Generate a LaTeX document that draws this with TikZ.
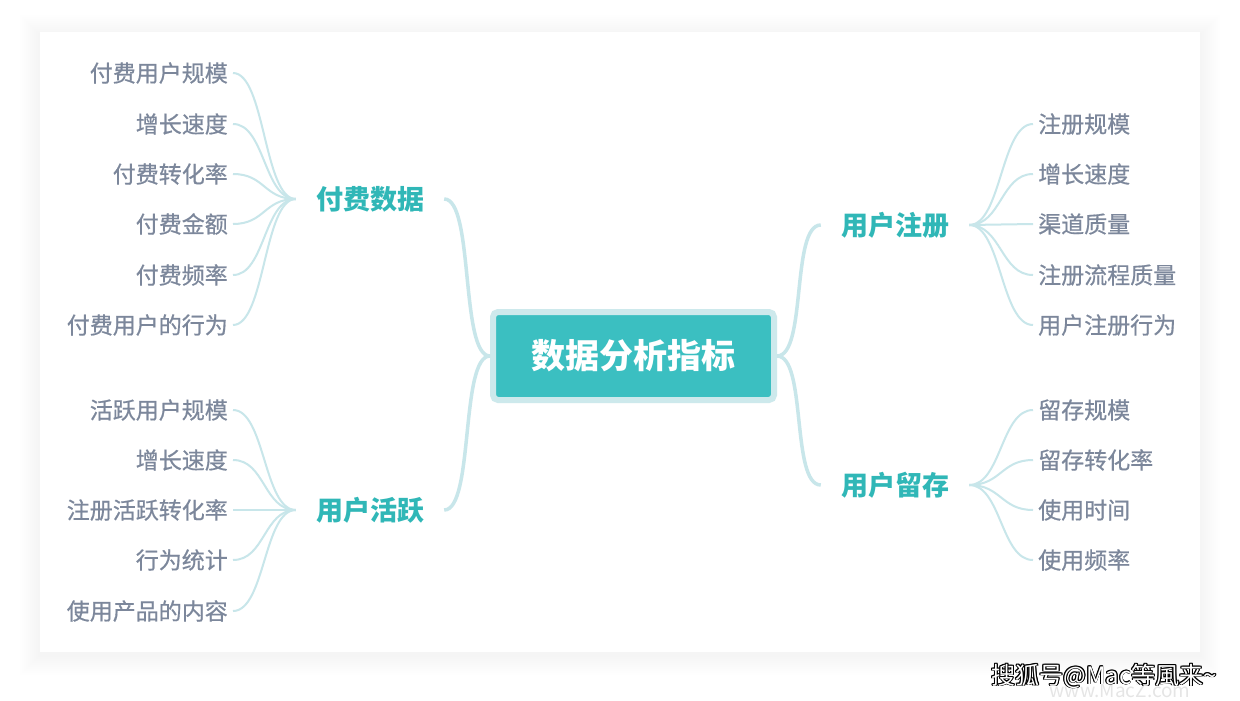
\documentclass[tikz,border=0pt]{standalone}
\usepackage{fontspec}
\setmainfont{Noto Sans CJK SC}
\newfontfamily\leaffont[FakeBold=0.6]{Noto Sans CJK SC}
\usetikzlibrary{positioning}
\definecolor{hubteal}{HTML}{3BBFC1}
\definecolor{hubrim}{HTML}{CDE9EC}
\definecolor{branchteal}{HTML}{30B7B7}
\definecolor{leafgrey}{HTML}{7C879B}
\definecolor{twig}{HTML}{C8E6EA}
\tikzset{
  hub/.style={draw=hubrim, line width=6pt, fill=hubteal, rounded corners=5pt,
    minimum width=281pt, minimum height=88pt, text=white,
    font=\fontsize{34}{34}\selectfont\bfseries},
  branch/.style={inner xsep=20pt, inner ysep=0pt, text=branchteal,
    font=\fontsize{27}{27}\selectfont\bfseries},
  leaf/.style={inner xsep=5pt, inner ysep=0pt, text=leafgrey,
    font=\fontsize{23}{23}\selectfont\leaffont},
  stemline/.style={draw=twig, line width=3.5pt},
  twigline/.style={draw=twig, line width=2pt},
  wmark/.style={inner sep=0pt, font=\fontsize{24}{24}\selectfont}
}
\begin{document}
\begin{tikzpicture}[x=1pt, y=-1pt]
  \useasboundingbox (0,0) rectangle (1240,701);
  % card with soft shadow
  \foreach \i [evaluate=\i as \s using 0.4*\i, evaluate=\i as \p using 22-2*\i] in {0,...,10} {
    \fill[black!\s] (40-\p,32-\p+3) rectangle (1200+\p,652+\p+3);
  }
  \fill[white] (40,32) rectangle (1200,652);

  % centre and branches
  \node[hub] (root) at (633.5,356) {数据分析指标};
  \node[branch] (fee) at (370,199) {付费数据};
  \node[branch] (act) at (370,510) {用户活跃};
  \node[branch] (reg) at (895,225) {用户注册};
  \node[branch] (ret) at (895,485) {用户留存};

  \foreach \b in {fee,act}
    \draw[stemline] (root.west) .. controls +(-30,0) and +(30,0) .. (\b.east);
  \foreach \b in {reg,ret}
    \draw[stemline] (root.east) .. controls +(30,0) and +(-30,0) .. (\b.west);

  % leaves, left side
  \foreach \i/\y/\txt in {1/73/付费用户规模,2/124/增长速度,3/174/付费转化率,
      4/224/付费金额,5/275/付费频率,6/325/付费用户的行为} {
    \node[leaf, anchor=east] (fee\i) at (233,\y) {\txt};
    \draw[twigline] (fee.west) .. controls +(-32,0) and +(32,0) .. (fee\i.east);
  }
  \foreach \i/\y/\txt in {1/410/活跃用户规模,2/460/增长速度,3/510/注册活跃转化率,
      4/560/行为统计,5/611/使用产品的内容} {
    \node[leaf, anchor=east] (act\i) at (233,\y) {\txt};
    \draw[twigline] (act.west) .. controls +(-32,0) and +(32,0) .. (act\i.east);
  }

  % leaves, right side
  \foreach \i/\y/\txt in {1/124/注册规模,2/174/增长速度,3/224/渠道质量,
      4/275/注册流程质量,5/325/用户注册行为} {
    \node[leaf, anchor=west] (reg\i) at (1033,\y) {\txt};
    \draw[twigline] (reg.east) .. controls +(32,0) and +(-32,0) .. (reg\i.west);
  }
  \foreach \i/\y/\txt in {1/410/留存规模,2/460/留存转化率,3/510/使用时间,4/560/使用频率} {
    \node[leaf, anchor=west] (ret\i) at (1033,\y) {\txt};
    \draw[twigline] (ret.east) .. controls +(32,0) and +(-32,0) .. (ret\i.west);
  }

  % watermark
  \node[inner sep=0pt, text=black!10, font=\fontsize{19}{19}\selectfont\rmfamily] (site) at (1120,691) {www.MacZ.com};
  \foreach \dx/\dy in {-0.9/0,0.9/0,0/-0.9,0/0.9,-0.7/-0.7,0.7/0.7,-0.7/0.7,0.7/-0.7}
    \node[wmark, text=black] at (1104+\dx,676+\dy) {搜狐号@Mac等風来\textasciitilde};
  \node[wmark, text=white] (stamp) at (1104,676) {搜狐号@Mac等風来\textasciitilde};
\end{tikzpicture}
\end{document}
